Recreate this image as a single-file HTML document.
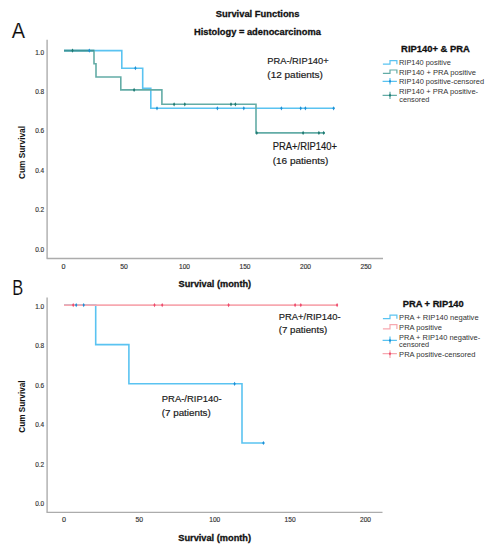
<!DOCTYPE html>
<html><head><meta charset="utf-8"><style>
html,body{margin:0;padding:0;background:#fff;width:490px;height:550px;overflow:hidden}
svg{display:block}
text{font-family:"Liberation Sans",sans-serif}
</style></head><body>
<svg width="490" height="550" viewBox="0 0 490 550">
<rect width="490" height="550" fill="#fff"/>
<text transform="translate(11.70,37.90) scale(0.8966,1)" font-size="22.24" font-weight="normal" fill="#0a0a0a" stroke="#fff" stroke-width="0.15">A</text>
<text transform="translate(12.30,294.90) scale(0.7416,1)" font-size="22.24" font-weight="normal" fill="#0a0a0a" stroke="#fff" stroke-width="0.15">B</text>
<text transform="translate(215.80,17.40) scale(0.9619,1)" font-size="9.74" font-weight="bold" fill="#111" stroke="#111" stroke-width="0.3" >Survival Functions</text>
<text transform="translate(194.00,34.70) scale(0.9555,1)" font-size="9.74" font-weight="bold" fill="#111" stroke="#111" stroke-width="0.3" >Histology = adenocarcinoma</text>
<line x1="47.1" y1="39.8" x2="47.1" y2="258.5" stroke="#acacac" stroke-width="1.4"/>
<line x1="46.6" y1="258.5" x2="383" y2="258.5" stroke="#acacac" stroke-width="1.4"/>
<text transform="translate(35.20,251.50) scale(0.9980,1)" font-size="6.49" font-weight="normal" fill="#333" stroke="#333" stroke-width="0.15">0.0</text>
<text transform="translate(35.20,212.10) scale(0.9980,1)" font-size="6.49" font-weight="normal" fill="#333" stroke="#333" stroke-width="0.15">0.2</text>
<text transform="translate(35.20,172.70) scale(0.9980,1)" font-size="6.49" font-weight="normal" fill="#333" stroke="#333" stroke-width="0.15">0.4</text>
<text transform="translate(35.20,133.30) scale(0.9980,1)" font-size="6.49" font-weight="normal" fill="#333" stroke="#333" stroke-width="0.15">0.6</text>
<text transform="translate(35.20,93.90) scale(0.9980,1)" font-size="6.49" font-weight="normal" fill="#333" stroke="#333" stroke-width="0.15">0.8</text>
<text transform="translate(35.20,54.50) scale(0.9980,1)" font-size="6.49" font-weight="normal" fill="#333" stroke="#333" stroke-width="0.15">1.0</text>
<text transform="translate(61.50,268.60) scale(1.1089,1)" font-size="6.49" font-weight="normal" fill="#333" stroke="#333" stroke-width="0.15">0</text>
<text transform="translate(120.20,268.60) scale(1.0534,1)" font-size="6.49" font-weight="normal" fill="#333" stroke="#333" stroke-width="0.15">50</text>
<text transform="translate(179.00,268.60) scale(1.0164,1)" font-size="6.49" font-weight="normal" fill="#333" stroke="#333" stroke-width="0.15">100</text>
<text transform="translate(239.50,268.60) scale(1.0164,1)" font-size="6.49" font-weight="normal" fill="#333" stroke="#333" stroke-width="0.15">150</text>
<text transform="translate(300.00,268.60) scale(1.0164,1)" font-size="6.49" font-weight="normal" fill="#333" stroke="#333" stroke-width="0.15">200</text>
<text transform="translate(360.50,268.60) scale(1.0164,1)" font-size="6.49" font-weight="normal" fill="#333" stroke="#333" stroke-width="0.15">250</text>
<line x1="47.1" y1="297.5" x2="47.1" y2="512.4" stroke="#acacac" stroke-width="1.4"/>
<line x1="46.6" y1="512.4" x2="382.5" y2="512.4" stroke="#acacac" stroke-width="1.4"/>
<text transform="translate(35.20,506.00) scale(0.9980,1)" font-size="6.49" font-weight="normal" fill="#333" stroke="#333" stroke-width="0.15">0.0</text>
<text transform="translate(35.20,466.50) scale(0.9980,1)" font-size="6.49" font-weight="normal" fill="#333" stroke="#333" stroke-width="0.15">0.2</text>
<text transform="translate(35.20,427.00) scale(0.9980,1)" font-size="6.49" font-weight="normal" fill="#333" stroke="#333" stroke-width="0.15">0.4</text>
<text transform="translate(35.20,387.50) scale(0.9980,1)" font-size="6.49" font-weight="normal" fill="#333" stroke="#333" stroke-width="0.15">0.6</text>
<text transform="translate(35.20,348.00) scale(0.9980,1)" font-size="6.49" font-weight="normal" fill="#333" stroke="#333" stroke-width="0.15">0.8</text>
<text transform="translate(35.20,308.50) scale(0.9980,1)" font-size="6.49" font-weight="normal" fill="#333" stroke="#333" stroke-width="0.15">1.0</text>
<text transform="translate(62.00,522.30) scale(1.1089,1)" font-size="6.49" font-weight="normal" fill="#333" stroke="#333" stroke-width="0.15">0</text>
<text transform="translate(135.57,522.30) scale(1.0534,1)" font-size="6.49" font-weight="normal" fill="#333" stroke="#333" stroke-width="0.15">50</text>
<text transform="translate(209.25,522.30) scale(1.0164,1)" font-size="6.49" font-weight="normal" fill="#333" stroke="#333" stroke-width="0.15">100</text>
<text transform="translate(284.62,522.30) scale(1.0164,1)" font-size="6.49" font-weight="normal" fill="#333" stroke="#333" stroke-width="0.15">150</text>
<text transform="translate(360.00,522.30) scale(1.0164,1)" font-size="6.49" font-weight="normal" fill="#333" stroke="#333" stroke-width="0.15">200</text>
<text transform="translate(178.60,286.50) scale(0.9449,1)" font-size="9.74" font-weight="bold" fill="#111" stroke="#111" stroke-width="0.3" >Survival (month)</text>
<text transform="translate(178.30,540.50) scale(0.9933,1)" font-size="9.30" font-weight="bold" fill="#111" stroke="#111" stroke-width="0.3" >Survival (month)</text>
<text transform="translate(25.30,179.00) rotate(-90) scale(0.9073,1)" font-size="9.16" font-weight="bold" fill="#111">Cum Survival</text>
<text transform="translate(25.30,432.70) rotate(-90) scale(0.8937,1)" font-size="9.16" font-weight="bold" fill="#111">Cum Survival</text>
<path d="M64,50.6 L121.8,50.6 L121.8,68.2 L142.7,68.2 L142.7,88.4 L150.8,88.4 L150.8,108.3 L334.8,108.3" fill="none" stroke="#5ac3f1" stroke-width="1.6" stroke-linejoin="miter" stroke-linecap="butt"/>
<path d="M64,50.6 L94.0,50.6 L94.0,63.8 L96.0,63.8 L96.0,77.0 L120.8,77.0 L120.8,89.9 L161.9,89.9 L161.9,104.3 L256.0,104.3 L256.0,132.9 L325.0,132.9" fill="none" stroke="#63aca6" stroke-width="1.6" stroke-linejoin="miter" stroke-linecap="butt"/>
<path d="M64,50.6 L94.0,50.6" fill="none" stroke="#3d969a" stroke-width="1.6" stroke-linejoin="miter" stroke-linecap="butt"/>
<path d="M89.3,48.5 L90.45,50.6 L89.3,52.7 L88.14999999999999,50.6 Z" fill="#1d8fd6"/>
<path d="M135.4,66.10000000000001 L136.55,68.2 L135.4,70.3 L134.25,68.2 Z" fill="#1d8fd6"/>
<path d="M157.0,106.2 L158.15,108.3 L157.0,110.39999999999999 L155.85,108.3 Z" fill="#1d8fd6"/>
<path d="M217.4,106.2 L218.55,108.3 L217.4,110.39999999999999 L216.25,108.3 Z" fill="#1d8fd6"/>
<path d="M243.8,106.2 L244.95000000000002,108.3 L243.8,110.39999999999999 L242.65,108.3 Z" fill="#1d8fd6"/>
<path d="M281.4,106.2 L282.54999999999995,108.3 L281.4,110.39999999999999 L280.25,108.3 Z" fill="#1d8fd6"/>
<path d="M300.7,106.2 L301.84999999999997,108.3 L300.7,110.39999999999999 L299.55,108.3 Z" fill="#1d8fd6"/>
<path d="M305.4,106.2 L306.54999999999995,108.3 L305.4,110.39999999999999 L304.25,108.3 Z" fill="#1d8fd6"/>
<path d="M333.6,106.2 L334.75,108.3 L333.6,110.39999999999999 L332.45000000000005,108.3 Z" fill="#1d8fd6"/>
<path d="M72.5,48.5 L73.65,50.6 L72.5,52.7 L71.35,50.6 Z" fill="#1f7a72"/>
<path d="M134.1,87.80000000000001 L135.25,89.9 L134.1,92.0 L132.95,89.9 Z" fill="#1f7a72"/>
<path d="M174.1,102.2 L175.25,104.3 L174.1,106.39999999999999 L172.95,104.3 Z" fill="#1f7a72"/>
<path d="M184.8,102.2 L185.95000000000002,104.3 L184.8,106.39999999999999 L183.65,104.3 Z" fill="#1f7a72"/>
<path d="M231.0,102.2 L232.15,104.3 L231.0,106.39999999999999 L229.85,104.3 Z" fill="#1f7a72"/>
<path d="M235.4,102.2 L236.55,104.3 L235.4,106.39999999999999 L234.25,104.3 Z" fill="#1f7a72"/>
<path d="M256.8,130.8 L257.95,132.9 L256.8,135.0 L255.65,132.9 Z" fill="#1f7a72"/>
<path d="M303.1,130.8 L304.25,132.9 L303.1,135.0 L301.95000000000005,132.9 Z" fill="#1f7a72"/>
<path d="M318.9,130.8 L320.04999999999995,132.9 L318.9,135.0 L317.75,132.9 Z" fill="#1f7a72"/>
<path d="M323.7,130.8 L324.84999999999997,132.9 L323.7,135.0 L322.55,132.9 Z" fill="#1f7a72"/>
<path d="M64,305.1 L95.7,305.1 L95.7,344.6 L128.9,344.6 L128.9,383.8 L242.0,383.8 L242.0,443.0 L264.5,443.0" fill="none" stroke="#5ac3f1" stroke-width="1.6" stroke-linejoin="miter" stroke-linecap="butt"/>
<path d="M64,305.1 L337.1,305.1" fill="none" stroke="#f7a8b0" stroke-width="1.6" stroke-linejoin="miter" stroke-linecap="butt"/>
<path d="M76.2,303.0 L77.35000000000001,305.1 L76.2,307.20000000000005 L75.05,305.1 Z" fill="#1d8fd6"/>
<path d="M83.7,303.0 L84.85000000000001,305.1 L83.7,307.20000000000005 L82.55,305.1 Z" fill="#1d8fd6"/>
<path d="M234.6,381.7 L235.75,383.8 L234.6,385.90000000000003 L233.45,383.8 Z" fill="#1d8fd6"/>
<path d="M263.4,440.9 L264.54999999999995,443.0 L263.4,445.1 L262.25,443.0 Z" fill="#1d8fd6"/>
<path d="M73.2,303.0 L74.35000000000001,305.1 L73.2,307.20000000000005 L72.05,305.1 Z" fill="#ee4a6c"/>
<path d="M154.5,303.0 L155.65,305.1 L154.5,307.20000000000005 L153.35,305.1 Z" fill="#ee4a6c"/>
<path d="M162.2,303.0 L163.35,305.1 L162.2,307.20000000000005 L161.04999999999998,305.1 Z" fill="#ee4a6c"/>
<path d="M228.6,303.0 L229.75,305.1 L228.6,307.20000000000005 L227.45,305.1 Z" fill="#ee4a6c"/>
<path d="M295.1,303.0 L296.25,305.1 L295.1,307.20000000000005 L293.95000000000005,305.1 Z" fill="#ee4a6c"/>
<path d="M300.8,303.0 L301.95,305.1 L300.8,307.20000000000005 L299.65000000000003,305.1 Z" fill="#ee4a6c"/>
<path d="M337.1,303.0 L338.25,305.1 L337.1,307.20000000000005 L335.95000000000005,305.1 Z" fill="#ee4a6c"/>
<text transform="translate(267.30,64.10) scale(0.9852,1)" font-size="9.45" font-weight="normal" fill="#1a1a1a" stroke="#1a1a1a" stroke-width="0.18">PRA-/RIP140+</text>
<text transform="translate(267.30,78.00) scale(1.1413,1)" font-size="8.78" font-weight="normal" fill="#1a1a1a" stroke="#1a1a1a" stroke-width="0.18">(12 patients)</text>
<text transform="translate(272.70,149.80) scale(0.9392,1)" font-size="10.03" font-weight="normal" fill="#1a1a1a" stroke="#1a1a1a" stroke-width="0.18">PRA+/RIP140+</text>
<text transform="translate(272.70,164.30) scale(1.1413,1)" font-size="8.78" font-weight="normal" fill="#1a1a1a" stroke="#1a1a1a" stroke-width="0.18">(16 patients)</text>
<text transform="translate(278.80,319.90) scale(0.9636,1)" font-size="9.74" font-weight="normal" fill="#1a1a1a" stroke="#1a1a1a" stroke-width="0.18">PRA+/RIP140-</text>
<text transform="translate(278.80,333.40) scale(1.1044,1)" font-size="8.78" font-weight="normal" fill="#1a1a1a" stroke="#1a1a1a" stroke-width="0.18">(7 patients)</text>
<text transform="translate(161.80,402.10) scale(0.9581,1)" font-size="9.88" font-weight="normal" fill="#1a1a1a" stroke="#1a1a1a" stroke-width="0.18">PRA-/RIP140-</text>
<text transform="translate(161.80,415.80) scale(1.1158,1)" font-size="8.78" font-weight="normal" fill="#1a1a1a" stroke="#1a1a1a" stroke-width="0.18">(7 patients)</text>
<text transform="translate(401.10,51.90) scale(1.0445,1)" font-size="9.01" font-weight="bold" fill="#111" stroke="#111" stroke-width="0.3" >RIP140+ &amp; PRA</text>
<text transform="translate(399.00,65.30) scale(1.0196,1)" font-size="7.27" font-weight="normal" fill="#333" >RIP140 positive</text>
<text transform="translate(399.00,74.80) scale(1.0055,1)" font-size="7.56" font-weight="normal" fill="#333" >RIP140 + PRA positive</text>
<text transform="translate(399.00,84.10) scale(1.0049,1)" font-size="7.41" font-weight="normal" fill="#333" >RIP140 positive-censored</text>
<text transform="translate(399.00,93.60) scale(1.0401,1)" font-size="7.27" font-weight="normal" fill="#333" >RIP140 + PRA positive-</text>
<text transform="translate(399.30,102.30) scale(0.9292,1)" font-size="7.90" font-weight="normal" fill="#333" >censored</text>
<path d="M382.9,64.2 L390,64.2 L390,60.6 L396.9,60.6 L396.9,64.2" fill="none" stroke="#5ac3f1" stroke-width="1.2"/>
<path d="M382.9,73.4 L390,73.4 L390,70.0 L396.9,70.0 L396.9,73.4" fill="none" stroke="#63aca6" stroke-width="1.2"/>
<path d="M382.6,81.3 L396.9,81.3 M390,78.0 L390,84.6" fill="none" stroke="#5ac3f1" stroke-width="1.2"/><path d="M390,79.5 L391.2,81.3 L390,83.1 L388.8,81.3 Z" fill="#1d8fd6"/>
<path d="M382.6,95.3 L396.9,95.3 M390,91.8 L390,98.9" fill="none" stroke="#63aca6" stroke-width="1.2"/><path d="M390,93.5 L391.2,95.3 L390,97.1 L388.8,95.3 Z" fill="#1f7a72"/>
<text transform="translate(402.70,306.60) scale(1.0353,1)" font-size="9.01" font-weight="bold" fill="#111" stroke="#111" stroke-width="0.3" >PRA + RIP140</text>
<text transform="translate(399.10,320.20) scale(0.9997,1)" font-size="7.56" font-weight="normal" fill="#333" >PRA + RIP140 negative</text>
<text transform="translate(399.10,329.80) scale(1.0389,1)" font-size="7.27" font-weight="normal" fill="#333" >PRA positive</text>
<text transform="translate(399.10,339.60) scale(0.9885,1)" font-size="7.56" font-weight="normal" fill="#333" >PRA + RIP140 negative-</text>
<text transform="translate(399.10,357.20) scale(1.0005,1)" font-size="7.56" font-weight="normal" fill="#333" >PRA positive-censored</text>
<text transform="translate(399.10,346.70) scale(0.9262,1)" font-size="7.90" font-weight="normal" fill="#333" >censored</text>
<path d="M382.9,318.7 L390,318.7 L390,315.1 L396.9,315.1 L396.9,318.7" fill="none" stroke="#5ac3f1" stroke-width="1.2"/>
<path d="M382.9,328.9 L390,328.9 L390,324.6 L396.9,324.6 L396.9,328.9" fill="none" stroke="#f7a8b0" stroke-width="1.2"/>
<path d="M382.6,340.4 L396.9,340.4 M390,336.6 L390,343.7" fill="none" stroke="#5ac3f1" stroke-width="1.2"/><path d="M390,338.59999999999997 L391.2,340.4 L390,342.2 L388.8,340.4 Z" fill="#1d8fd6"/>
<path d="M382.6,353.7 L396.9,353.7 M390,350.3 L390,358.0" fill="none" stroke="#f7a8b0" stroke-width="1.2"/><path d="M390,351.9 L391.2,353.7 L390,355.5 L388.8,353.7 Z" fill="#ee4a6c"/>
</svg>
</body></html>
